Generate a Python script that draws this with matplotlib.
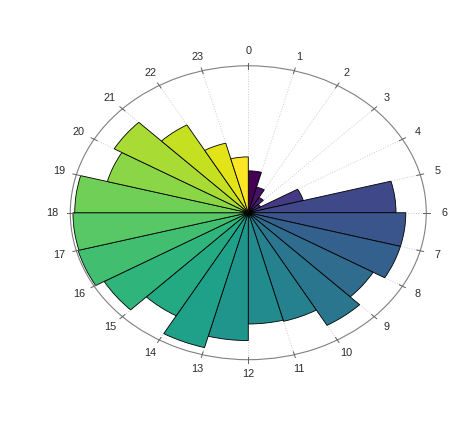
import numpy as np
import matplotlib
matplotlib.use("Agg")
import matplotlib.pyplot as plt

hours = list(range(24))
hour_labels = [str(h) for h in hours]
# bar lengths relative to the outer ring
values = [0.285, 0.18, 0.12, 0.08, 0.32, 0.83, 0.885, 0.885, 0.81, 0.885,
          0.765, 0.757, 0.87, 0.95, 0.81, 0.935, 0.99, 0.985, 0.975, 0.82,
          0.87, 0.69, 0.49, 0.38]

plt.rcParams['font.family'] = ['Liberation Sans', 'DejaVu Sans']

fig = plt.figure(figsize=(4.74, 4.38), dpi=100)
fig.patch.set_facecolor('white')
ax = fig.add_axes([0.1483, 0.1788, 0.751, 0.671], projection='polar')
ax.set_aspect('auto')
ax.set_theta_zero_location('N')
ax.set_theta_direction(-1)

step = 2 * np.pi / 24
theta = np.array(hours) * step
colors = plt.cm.viridis(np.linspace(0, 1, 24))
ax.bar(theta, values, width=step, align='edge', color=colors,
       edgecolor='black', linewidth=0.6, zorder=3)

ax.set_ylim(0, 1.0)
ax.set_yticks([])
ax.set_xticks(theta)
ax.set_xticklabels([])
ax.tick_params(axis='x', length=0)
# small tick marks crossing the outer ring and hour labels outside it
for t, lab in zip(theta, hour_labels):
    ax.plot([t, t], [0.98, 1.02], color='#606060', linewidth=0.7,
            clip_on=False, zorder=4)
    ax.text(t, 1.10, lab, ha='center', va='center', fontsize=7.8,
            color='#2a2a2a', clip_on=False)
ax.xaxis.grid(True, linestyle=':', color='#cccccc', linewidth=0.7)
ax.yaxis.grid(False)
ax.set_axisbelow(True)
ax.spines['polar'].set_color('#808080')
ax.spines['polar'].set_linewidth(0.8)
ax.set_facecolor('white')

fig.savefig('out.png', dpi=100, facecolor='white')
